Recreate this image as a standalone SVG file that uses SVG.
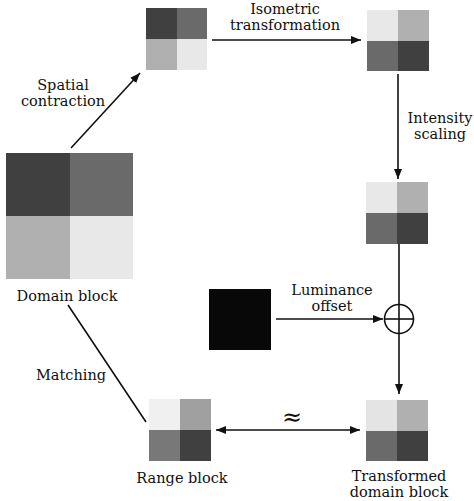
<svg xmlns="http://www.w3.org/2000/svg" width="474" height="501" viewBox="0 0 474 501">
<style>
text{font-family:"DejaVu Serif","Liberation Serif",serif;font-size:14.5px;fill:#111;text-anchor:middle}
.ln{stroke:#111;stroke-width:1.6;fill:none}
.c1{fill:#404040}.c2{fill:#6a6a6a}.c3{fill:#b0b0b0}.c4{fill:#e8e8e8}
</style>
<defs>
<marker id="ah" viewBox="0 0 10 8" refX="10" refY="4" markerWidth="10" markerHeight="8" markerUnits="userSpaceOnUse" orient="auto-start-reverse">
<path d="M0,0 L10,4 L0,8 Z" fill="#111"/>
</marker>
</defs>
<rect width="474" height="501" fill="#fff"/>
<g id="domain">
<rect class="c1" x="6" y="153" width="64" height="63"/>
<rect class="c2" x="70" y="153" width="63" height="63"/>
<rect class="c3" x="6" y="216" width="64" height="63"/>
<rect class="c4" x="70" y="216" width="63" height="63"/>
<text x="67" y="301">Domain block</text>
</g>
<g id="contracted">
<rect class="c1" x="146" y="8" width="31" height="31"/>
<rect class="c2" x="177" y="8" width="30" height="31"/>
<rect class="c3" x="146" y="39" width="31" height="31"/>
<rect class="c4" x="177" y="39" width="30" height="31"/>
</g>
<g id="isometric">
<rect class="c4" x="367" y="10" width="31" height="31"/>
<rect class="c3" x="398" y="10" width="31" height="31"/>
<rect class="c2" x="367" y="41" width="31" height="30"/>
<rect class="c1" x="398" y="41" width="31" height="30"/>
</g>
<g id="scaled">
<rect class="c4" x="366" y="182" width="31" height="31"/>
<rect class="c3" x="397" y="182" width="31" height="31"/>
<rect class="c2" x="366" y="213" width="31" height="31"/>
<rect class="c1" x="397" y="213" width="31" height="31"/>
</g>
<g id="offset">
<rect x="209" y="289" width="62" height="61" fill="#080808"/>
</g>
<g id="transformed">
<rect x="366" y="400" width="31" height="31" fill="#e4e4e4"/>
<rect class="c3" x="397" y="400" width="31" height="31"/>
<rect class="c2" x="366" y="431" width="31" height="30"/>
<rect class="c1" x="397" y="431" width="31" height="30"/>
<text x="399" y="481">Transformed</text>
<text x="399" y="497">domain block</text>
</g>
<g id="range">
<rect x="149" y="399" width="31" height="31" fill="#f0f0f0"/>
<rect x="180" y="399" width="31" height="31" fill="#a0a0a0"/>
<rect x="149" y="430" width="31" height="31" fill="#787878"/>
<rect x="180" y="430" width="31" height="31" fill="#404040"/>
<text x="182" y="483">Range block</text>
</g>
<g id="connectors">
<line class="ln" x1="71" y1="148" x2="140" y2="73" marker-end="url(#ah)"/>
<text x="63" y="90">Spatial</text>
<text x="63" y="106">contraction</text>
<line class="ln" x1="212" y1="40" x2="361" y2="40" marker-end="url(#ah)"/>
<text x="285" y="14">Isometric</text>
<text x="285" y="30">transformation</text>
<line class="ln" x1="398" y1="74" x2="398" y2="179" marker-end="url(#ah)"/>
<text x="440" y="123">Intensity</text>
<text x="440" y="139">scaling</text>
<line class="ln" x1="399" y1="244" x2="399" y2="394" marker-end="url(#ah)"/>
<line class="ln" x1="276" y1="319" x2="383" y2="319" marker-end="url(#ah)"/>
<text x="332" y="295">Luminance</text>
<text x="332" y="311">offset</text>
<line class="ln" x1="216" y1="430" x2="360" y2="430" marker-start="url(#ah)" marker-end="url(#ah)"/>
<text x="292" y="425" style="font-size:24px">≈</text>
<line class="ln" x1="68" y1="305" x2="146" y2="422"/>
<text x="71" y="380">Matching</text>
</g>
<g id="sum">
<circle cx="399" cy="319" r="14.5" fill="none" stroke="#111" stroke-width="1.6"/>
<line x1="384.5" y1="319" x2="413.5" y2="319" class="ln"/>
</g>
</svg>
